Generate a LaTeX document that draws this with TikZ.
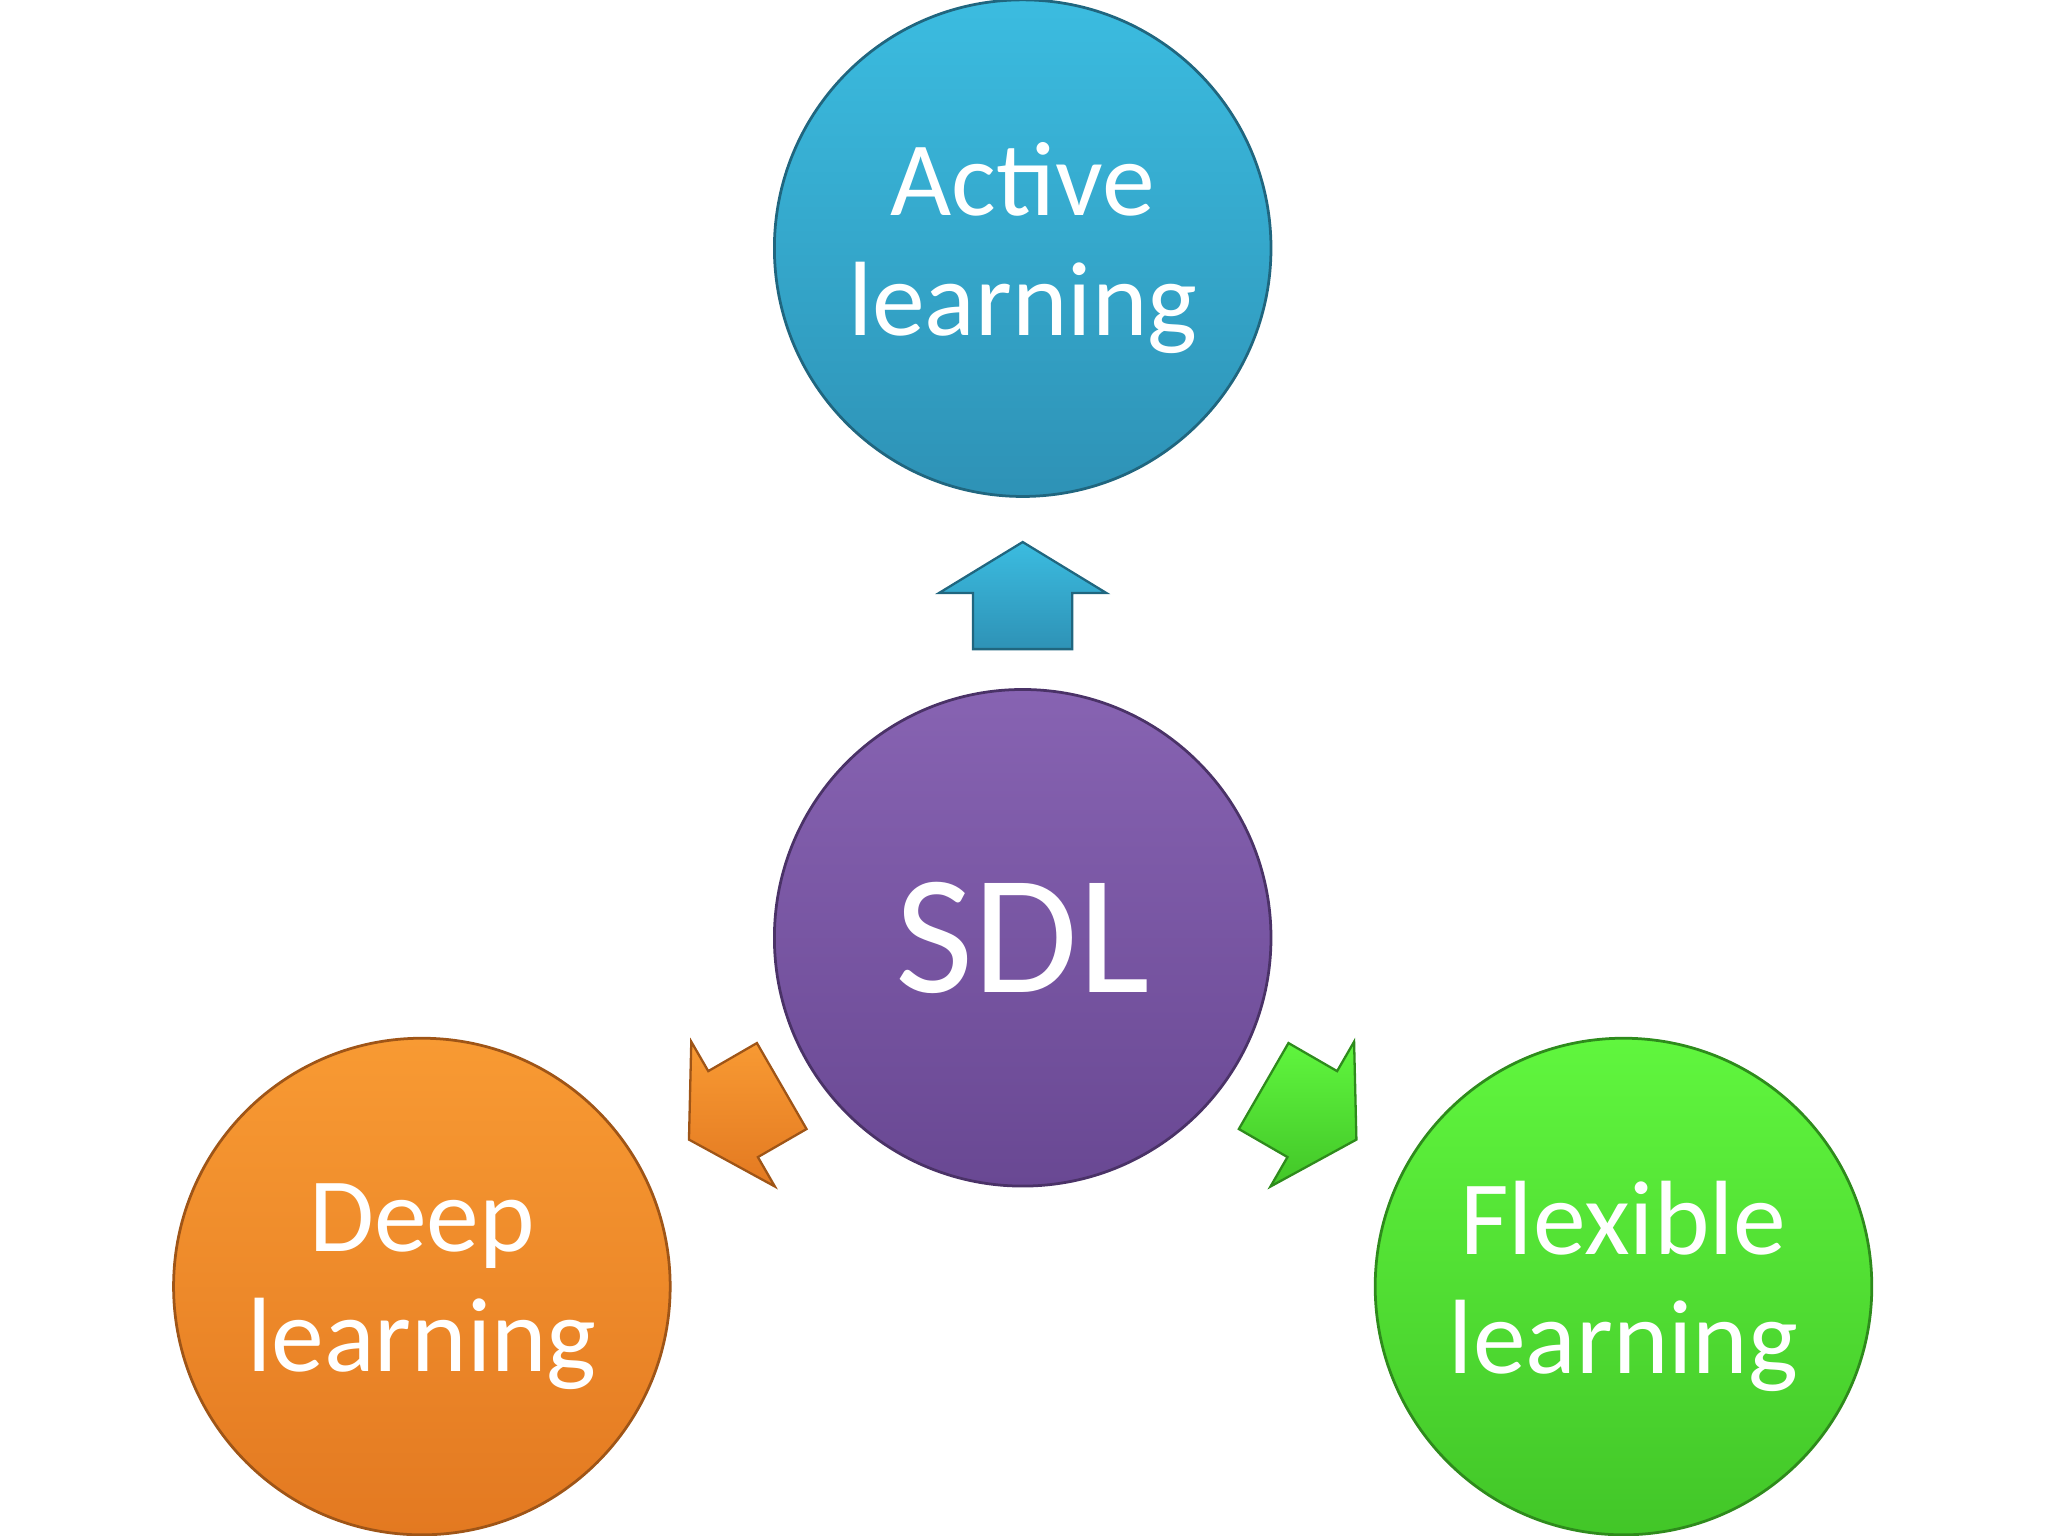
\documentclass[tikz,border=0pt]{standalone}
\usepackage{fontspec}
\setmainfont{Carlito}
\begin{document}
\begin{tikzpicture}[x=0.01cm,y=-0.01cm,
  circ/.style={circle,minimum size=3.8cm,inner sep=0pt,align=center,text=white,font=\fontsize{23}{26}\selectfont,draw=#1!70!black,line width=0.6pt},
  arr/.style={line width=0.5pt,draw=#1!70!black}]
\useasboundingbox (0,0) rectangle (1568,1176);
\definecolor{cA}{HTML}{3BBCE0}\definecolor{cA2}{HTML}{2E92B6}
\definecolor{cS}{HTML}{8763B2}\definecolor{cS2}{HTML}{694893}
\definecolor{cD}{HTML}{F89A33}\definecolor{cD2}{HTML}{E37921}
\definecolor{cF}{HTML}{60F63E}\definecolor{cF2}{HTML}{42C628}
\node[circ=cA2,top color=cA,bottom color=cA2] (act) at (783,190) {Active\\learning};
\node[circ=cS2,top color=cS,bottom color=cS2,font=\fontsize{37}{40}\selectfont] (sdl) at (783,718) {SDL};
\node[circ=cD2,top color=cD,bottom color=cD2] (deep) at (323,985) {Deep\\learning};
\node[circ=cF2,top color=cF,bottom color=cF2] (flex) at (1243,985) {Flexible\\learning};
\foreach \px/\py/\a/\col/\colb in {783/456/90/cA/cA2,563/852/210/cD/cD2,1003/852/330/cF/cF2}{
  \begin{scope}[shift={(\px,\py)},x=0.01cm,y=0.01cm,rotate=\a]
  \draw[arr=\colb,top color=\col,bottom color=\colb]
    (-41,-38) -- (2,-38) -- (2,-64) -- (41,0) -- (2,64) -- (2,38) -- (-41,38) -- cycle;
  \end{scope}}
\end{tikzpicture}
\end{document}
